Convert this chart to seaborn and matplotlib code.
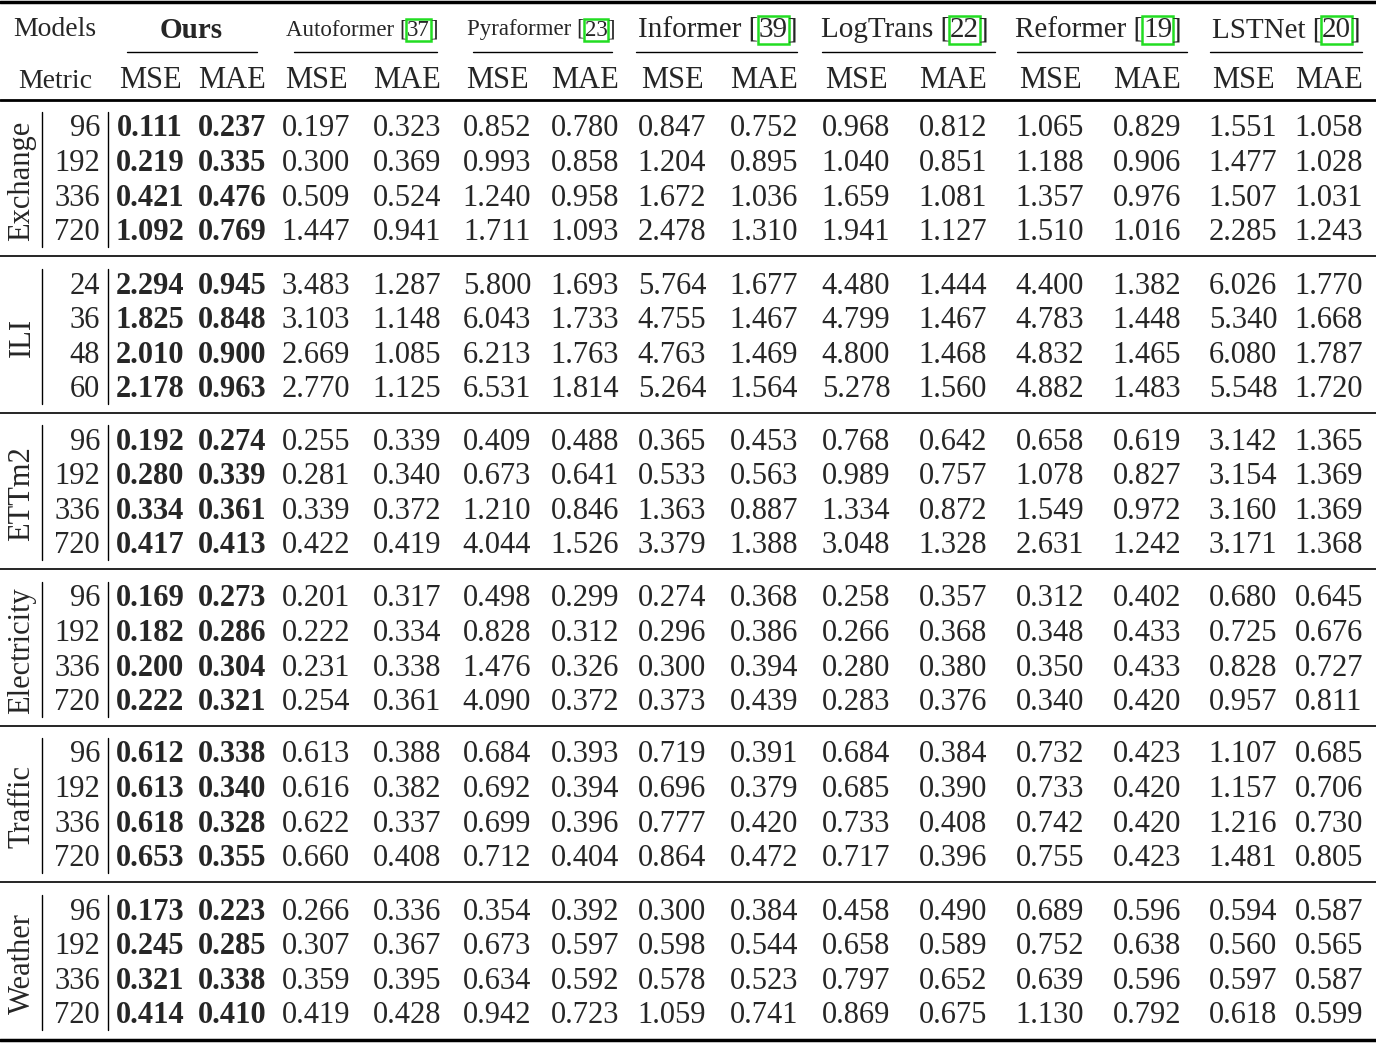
import matplotlib
matplotlib.use("Agg")
import matplotlib.pyplot as plt
import seaborn as sns

sns.set_theme(style="white")
plt.rcParams['font.family'] = ['Liberation Serif', 'DejaVu Serif']

models = ["Ours", "Autoformer", "Pyraformer", "Informer", "LogTrans", "Reformer", "LSTNet"]
cites = [None, "37", "23", "39", "22", "19", "20"]
datasets = ["Exchange", "ILI", "ETTm2", "Electricity", "Traffic", "Weather"]
horizons = [[96, 192, 336, 720], [24, 36, 48, 60], [96, 192, 336, 720],
            [96, 192, 336, 720], [96, 192, 336, 720], [96, 192, 336, 720]]
# each row: MSE/MAE pairs for all models
values = [
    [[0.111, 0.237, 0.197, 0.323, 0.852, 0.780, 0.847, 0.752, 0.968, 0.812, 1.065, 0.829, 1.551, 1.058],
     [0.219, 0.335, 0.300, 0.369, 0.993, 0.858, 1.204, 0.895, 1.040, 0.851, 1.188, 0.906, 1.477, 1.028],
     [0.421, 0.476, 0.509, 0.524, 1.240, 0.958, 1.672, 1.036, 1.659, 1.081, 1.357, 0.976, 1.507, 1.031],
     [1.092, 0.769, 1.447, 0.941, 1.711, 1.093, 2.478, 1.310, 1.941, 1.127, 1.510, 1.016, 2.285, 1.243]],
    [[2.294, 0.945, 3.483, 1.287, 5.800, 1.693, 5.764, 1.677, 4.480, 1.444, 4.400, 1.382, 6.026, 1.770],
     [1.825, 0.848, 3.103, 1.148, 6.043, 1.733, 4.755, 1.467, 4.799, 1.467, 4.783, 1.448, 5.340, 1.668],
     [2.010, 0.900, 2.669, 1.085, 6.213, 1.763, 4.763, 1.469, 4.800, 1.468, 4.832, 1.465, 6.080, 1.787],
     [2.178, 0.963, 2.770, 1.125, 6.531, 1.814, 5.264, 1.564, 5.278, 1.560, 4.882, 1.483, 5.548, 1.720]],
    [[0.192, 0.274, 0.255, 0.339, 0.409, 0.488, 0.365, 0.453, 0.768, 0.642, 0.658, 0.619, 3.142, 1.365],
     [0.280, 0.339, 0.281, 0.340, 0.673, 0.641, 0.533, 0.563, 0.989, 0.757, 1.078, 0.827, 3.154, 1.369],
     [0.334, 0.361, 0.339, 0.372, 1.210, 0.846, 1.363, 0.887, 1.334, 0.872, 1.549, 0.972, 3.160, 1.369],
     [0.417, 0.413, 0.422, 0.419, 4.044, 1.526, 3.379, 1.388, 3.048, 1.328, 2.631, 1.242, 3.171, 1.368]],
    [[0.169, 0.273, 0.201, 0.317, 0.498, 0.299, 0.274, 0.368, 0.258, 0.357, 0.312, 0.402, 0.680, 0.645],
     [0.182, 0.286, 0.222, 0.334, 0.828, 0.312, 0.296, 0.386, 0.266, 0.368, 0.348, 0.433, 0.725, 0.676],
     [0.200, 0.304, 0.231, 0.338, 1.476, 0.326, 0.300, 0.394, 0.280, 0.380, 0.350, 0.433, 0.828, 0.727],
     [0.222, 0.321, 0.254, 0.361, 4.090, 0.372, 0.373, 0.439, 0.283, 0.376, 0.340, 0.420, 0.957, 0.811]],
    [[0.612, 0.338, 0.613, 0.388, 0.684, 0.393, 0.719, 0.391, 0.684, 0.384, 0.732, 0.423, 1.107, 0.685],
     [0.613, 0.340, 0.616, 0.382, 0.692, 0.394, 0.696, 0.379, 0.685, 0.390, 0.733, 0.420, 1.157, 0.706],
     [0.618, 0.328, 0.622, 0.337, 0.699, 0.396, 0.777, 0.420, 0.733, 0.408, 0.742, 0.420, 1.216, 0.730],
     [0.653, 0.355, 0.660, 0.408, 0.712, 0.404, 0.864, 0.472, 0.717, 0.396, 0.755, 0.423, 1.481, 0.805]],
    [[0.173, 0.223, 0.266, 0.336, 0.354, 0.392, 0.300, 0.384, 0.458, 0.490, 0.689, 0.596, 0.594, 0.587],
     [0.245, 0.285, 0.307, 0.367, 0.673, 0.597, 0.598, 0.544, 0.658, 0.589, 0.752, 0.638, 0.560, 0.565],
     [0.321, 0.338, 0.359, 0.395, 0.634, 0.592, 0.578, 0.523, 0.797, 0.652, 0.639, 0.596, 0.597, 0.587],
     [0.414, 0.410, 0.419, 0.428, 0.942, 0.723, 1.059, 0.741, 0.869, 0.675, 1.130, 0.792, 0.618, 0.599]],
]

W, H = 1376, 1044
fig = plt.figure(figsize=(W / 100, H / 100), dpi=100)
ax = fig.add_axes([0, 0, 1, 1])
ax.set_xlim(0, W)
ax.set_ylim(H, 0)
ax.axis("off")

col_x = [150, 232, 316, 407, 497, 585, 672, 764, 856, 953, 1050, 1147, 1243, 1329]
rule_spans = [(127, 257), (294, 437), (473, 612), (636, 797), (822, 995), (1017, 1187), (1210, 1362)]
fs = 22

# header
ax.text(55, 30, "Models", ha="center", va="center", fontsize=20)
ax.text(55, 81, "Metric", ha="center", va="center", fontsize=20)
renderer = fig.canvas.get_renderer()
for i, (m, c) in enumerate(zip(models, cites)):
    cx = (col_x[2 * i] + col_x[2 * i + 1]) / 2
    if c is None:
        ax.text(cx, 30, m, ha="center", va="center", fontsize=21, fontweight="bold")
    else:
        small = i in (1, 2)
        size = 16.5 if small else 21
        parts = [m + " [", c, "]"]
        texts = [ax.text(0, 30, p, ha="left", va="center", fontsize=size) for p in parts]
        widths = [t.get_window_extent(renderer).width for t in texts]
        x = cx - sum(widths) / 2
        for t, w, p in zip(texts, widths, parts):
            t.set_x(x)
            if p == c:
                t.set_bbox(dict(facecolor="none", edgecolor="#22dd22", linewidth=1.8, pad=0.6))
            x += w
    a, b = rule_spans[i]
    ax.plot([a, b], [52, 52], color="black", lw=1)
    ax.text(col_x[2 * i], 81, "MSE", ha="center", va="center", fontsize=fs)
    ax.text(col_x[2 * i + 1], 81, "MAE", ha="center", va="center", fontsize=fs)

ax.plot([0, W], [2, 2], color="black", lw=2.5)
ax.plot([0, W], [100, 100], color="black", lw=2)

group_top = [110, 267, 423, 580, 736, 893]
row_h = 34.6
for g, name in enumerate(datasets):
    y0 = group_top[g]
    ys = [y0 + 19 + k * row_h for k in range(4)]
    ax.text(22, (ys[0] + ys[-1]) / 2, name, ha="center", va="center", rotation=90, fontsize=fs)
    ax.plot([42, 42], [y0 + 2, ys[-1] + 14], color="black", lw=1)
    ax.plot([108, 108], [y0 + 2, ys[-1] + 14], color="black", lw=1)
    for k, y in enumerate(ys):
        ax.text(100, y, str(horizons[g][k]), ha="right", va="center", fontsize=fs)
        for j, v in enumerate(values[g][k]):
            ax.text(col_x[j], y, f"{v:.3f}", ha="center", va="center", fontsize=fs,
                    fontweight="bold" if j < 2 else "normal")
    if g < len(datasets) - 1:
        ax.plot([0, W], [y0 + 146, y0 + 146], color="black", lw=1.2)

ax.plot([0, W], [1040, 1040], color="black", lw=2.5)

fig.savefig("out.png", dpi=100, facecolor="white")
